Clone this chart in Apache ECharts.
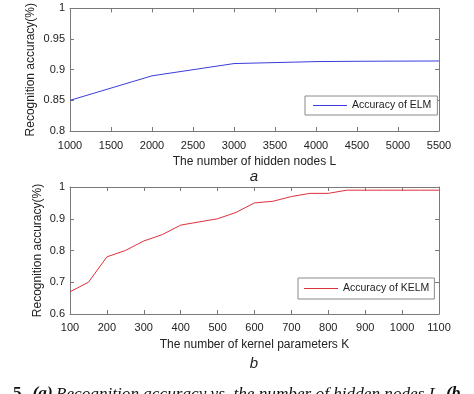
<!DOCTYPE html>
<html>
<head>
<meta charset="utf-8">
<script src="https://cdn.jsdelivr.net/npm/echarts@6/dist/echarts.min.js"></script>
<style>
html,body{margin:0;padding:0;background:#fff;}
#c{width:474px;height:394px;}
</style>
</head>
<body>
<div id="c"></div>
<script>
// ---- data ----
var elmNodes = [1000, 2000, 3000, 3500, 4000, 4500, 5000, 5500];
var elmAcc = [0.85, 0.89, 0.91, 0.9116, 0.9132, 0.9137, 0.914, 0.9142];

var kelmK = [100, 150, 200, 250, 300, 350, 400, 450, 500, 550, 600, 650, 700, 750, 800, 850, 900, 950, 1000, 1050, 1100];
var kelmAcc = [0.67, 0.70, 0.78, 0.80, 0.83, 0.85, 0.88, 0.89, 0.90, 0.92, 0.95, 0.955, 0.97, 0.98, 0.98, 0.99, 0.99, 0.99, 0.99, 0.99, 0.99];

var topXTicks = {min: 1000, max: 5500, interval: 500};
var topYTicks = {min: 0.8, max: 1, interval: 0.05};
var botXTicks = {min: 100, max: 1100, interval: 100};
var botYTicks = {min: 0.6, max: 1, interval: 0.1};

var xTitleTop = 'The number of hidden nodes L';
var xTitleBot = 'The number of kernel parameters K';
var yTitle = 'Recognition accuracy(%)';
var elmName = 'Accuracy of ELM';
var kelmName = 'Accuracy of KELM';

function pairs(xs, ys) { return xs.map(function (x, i) { return [x, ys[i]]; }); }

var SANS = '"Liberation Sans", Arial, Helvetica, sans-serif';
var SERIF = '"Liberation Serif", "Times New Roman", serif';
var frameColor = '#7a7a7a';
var textColor = '#222';

function fmt(v) { return String(Math.round(v * 1000) / 1000); }

function mainX(grid, t, name, margin, gap) {
  return {
    type: 'value', gridIndex: grid, position: 'bottom',
    min: t.min, max: t.max, interval: t.interval,
    name: name, nameLocation: 'middle', nameGap: gap, nameMoveOverlap: false,
    nameTextStyle: {fontFamily: SANS, fontSize: 12, color: textColor},
    axisLine: {show: true, lineStyle: {color: frameColor, width: 1}},
    axisTick: {show: true, inside: true, length: 4, lineStyle: {color: frameColor}},
    axisLabel: {show: true, margin: margin, fontFamily: SANS, fontSize: 11, color: textColor, formatter: fmt},
    splitLine: {show: false}
  };
}
function mirrorX(grid, t) {
  return {
    type: 'value', gridIndex: grid, position: 'top',
    min: t.min, max: t.max, interval: t.interval,
    axisLine: {show: true, lineStyle: {color: frameColor, width: 1}},
    axisTick: {show: true, inside: true, length: 4, lineStyle: {color: frameColor}},
    axisLabel: {show: false}, splitLine: {show: false}
  };
}
function mainY(grid, t, gap) {
  return {
    type: 'value', gridIndex: grid, position: 'left',
    min: t.min, max: t.max, interval: t.interval,
    name: yTitle, nameLocation: 'middle', nameGap: gap, nameRotate: 90, nameMoveOverlap: false,
    nameTextStyle: {fontFamily: SANS, fontSize: 12, color: textColor},
    axisLine: {show: true, lineStyle: {color: frameColor, width: 1}},
    axisTick: {show: true, inside: true, length: 4, lineStyle: {color: frameColor}},
    axisLabel: {show: true, margin: 5, fontFamily: SANS, fontSize: 11, color: textColor, formatter: fmt},
    splitLine: {show: false}
  };
}
function mirrorY(grid, t) {
  return {
    type: 'value', gridIndex: grid, position: 'right',
    min: t.min, max: t.max, interval: t.interval,
    axisLine: {show: true, lineStyle: {color: frameColor, width: 1}},
    axisTick: {show: true, inside: true, length: 4, lineStyle: {color: frameColor}},
    axisLabel: {show: false}, splitLine: {show: false}
  };
}

var chart = echarts.init(document.getElementById('c'), null, {renderer: 'canvas'});
chart.setOption({
  backgroundColor: '#fff',
  animation: false,
  grid: [
    {left: 70, top: 5, width: 369, height: 126},
    {left: 70, top: 187, width: 369, height: 127}
  ],
  xAxis: [
    mainX(0, topXTicks, xTitleTop, 9, 25),
    mainX(1, botXTicks, xTitleBot, 8, 25),
    mirrorX(0, topXTicks),
    mirrorX(1, botXTicks)
  ],
  yAxis: [
    mainY(0, topYTicks, 33),
    mainY(1, botYTicks, 26),
    mirrorY(0, topYTicks),
    mirrorY(1, botYTicks)
  ],
  legend: [
    {
      data: [elmName], left: 305, top: 96, orient: 'horizontal', icon: 'rect',
      padding: [3, 6, 3, 8], itemWidth: 34, itemHeight: 1,
      borderColor: '#8a8a8a', borderWidth: 1, backgroundColor: '#fff',
      textStyle: {fontFamily: SANS, fontSize: 10.5, color: textColor, lineHeight: 13}
    },
    {
      data: [kelmName], left: 298, top: 278, orient: 'horizontal', icon: 'rect',
      padding: [4, 5, 4, 6], itemWidth: 34, itemHeight: 1,
      borderColor: '#8a8a8a', borderWidth: 1, backgroundColor: '#fff',
      textStyle: {fontFamily: SANS, fontSize: 10.5, color: textColor, lineHeight: 13}
    }
  ],
  series: [
    {
      name: elmName, type: 'line', xAxisIndex: 0, yAxisIndex: 0,
      data: pairs(elmNodes, elmAcc), symbol: 'none', smooth: false,
      lineStyle: {color: '#3c3cdc', width: 1}, itemStyle: {color: '#3c3cdc'}
    },
    {
      name: kelmName, type: 'line', xAxisIndex: 1, yAxisIndex: 1,
      data: pairs(kelmK, kelmAcc), symbol: 'none', smooth: false,
      lineStyle: {color: '#e0303c', width: 1}, itemStyle: {color: '#e0303c'}
    }
  ],
  graphic: [
    {type: 'text', x: 254, y: 177, silent: true,
      style: {text: 'a', font: 'italic 15px ' + SANS, fill: textColor, textAlign: 'center', textVerticalAlign: 'middle'}},
    {type: 'text', x: 254, y: 364, silent: true,
      style: {text: 'b', font: 'italic 15px ' + SANS, fill: textColor, textAlign: 'center', textVerticalAlign: 'middle'}},
    {type: 'text', x: 13, y: 394, silent: true,
      style: {
        text: '{b|5.}  {bi|(a)} {i|Recognition accuracy vs. the number of hidden nodes L.} {bi|(b}',
        textVerticalAlign: 'middle', textAlign: 'left',
        rich: {
          b: {fontFamily: SERIF, fontWeight: 'bold', fontSize: 17.2, fill: '#111', color: '#111'},
          bi: {fontFamily: SERIF, fontWeight: 'bold', fontStyle: 'italic', fontSize: 17.2, fill: '#111', color: '#111'},
          i: {fontFamily: SERIF, fontStyle: 'italic', fontSize: 17.2, fill: '#111', color: '#111'}
        }
      }}
  ]
});
</script>
</body>
</html>
